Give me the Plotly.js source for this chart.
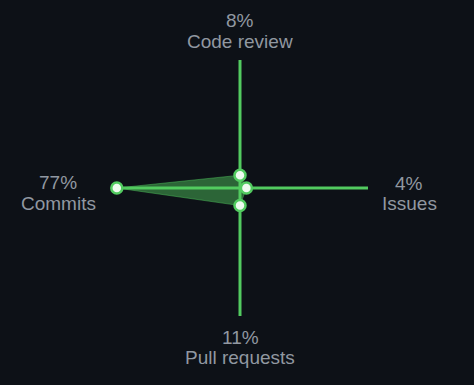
<!DOCTYPE html>
<html>
<head>
<meta charset="utf-8">
<script src="https://cdn.plot.ly/plotly-3.0.1.min.js"></script>
<style>
  html, body { margin: 0; padding: 0; background: #0d1117; }
  #chart { width: 474px; height: 385px; }
</style>
</head>
<body>
<div id="chart"></div>
<script>
// Activity overview: share of contributions by type
const categories = ["Code review", "Issues", "Pull requests", "Commits"];
const percents = [8, 4, 11, 77];

const GREEN = "#52cb60";
const LABEL = "#9198a1";
const ARM = 80;            // length of each axis arm, in percent units
const PX = 1.6;            // pixels per percent unit
const CX = 240, CY = 188;  // centre of the cross, in pixels
const W = 474, H = 385;

// unit direction of each category's arm: up, right, down, left
const dirs = [[0, 1], [1, 0], [0, -1], [-1, 0]];

const px = percents.map((v, i) => dirs[i][0] * v);
const py = percents.map((v, i) => dirs[i][1] * v);

const traces = [
  // vertical and horizontal axis arms
  { x: [0, 0], y: [-ARM, ARM], mode: "lines", line: { color: GREEN, width: 3 }, hoverinfo: "skip" },
  { x: [-ARM, ARM], y: [0, 0], mode: "lines", line: { color: GREEN, width: 3 }, hoverinfo: "skip" },
  // filled activity shape
  {
    x: px.concat([px[0]]), y: py.concat([py[0]]),
    mode: "lines", fill: "toself",
    fillcolor: "rgba(82,203,96,0.45)",
    line: { color: "rgba(82,203,96,0.45)", width: 1 },
    hoverinfo: "skip"
  },
  // value markers
  {
    x: px, y: py, mode: "markers",
    marker: { size: 11, color: "#eefaef", line: { color: GREEN, width: 2.5 } },
    text: categories, hoverinfo: "text"
  }
];

// label positions (pixels) for each category: [x, y of value line, y of name line]
const labelPos = [[240, 20, 41], [409, 183, 203], [240, 337, 357], [58, 182, 203]];
const toX = p => (p - CX) / PX;
const toY = p => (CY - p) / PX;

const FONT = { family: "Liberation Sans, Arial, sans-serif", size: 19, color: LABEL };
const annotations = [];
categories.forEach((c, i) => {
  const [lx, ly1, ly2] = labelPos[i];
  annotations.push({ x: toX(lx), y: toY(ly1), xref: "x", yref: "y", text: percents[i] + "%",
    showarrow: false, font: FONT });
  annotations.push({ x: toX(lx), y: toY(ly2), xref: "x", yref: "y", text: c,
    showarrow: false, font: FONT });
});

const layout = {
  width: W, height: H,
  margin: { l: 0, r: 0, t: 0, b: 0 },
  paper_bgcolor: "#0d1117", plot_bgcolor: "#0d1117",
  showlegend: false,
  xaxis: { range: [-CX / PX, (W - CX) / PX], visible: false, fixedrange: true },
  yaxis: { range: [-(H - CY) / PX, CY / PX], visible: false, fixedrange: true },
  annotations: annotations
};

Plotly.newPlot("chart", traces, layout, { displayModeBar: false, staticPlot: true });
</script>
</body>
</html>
